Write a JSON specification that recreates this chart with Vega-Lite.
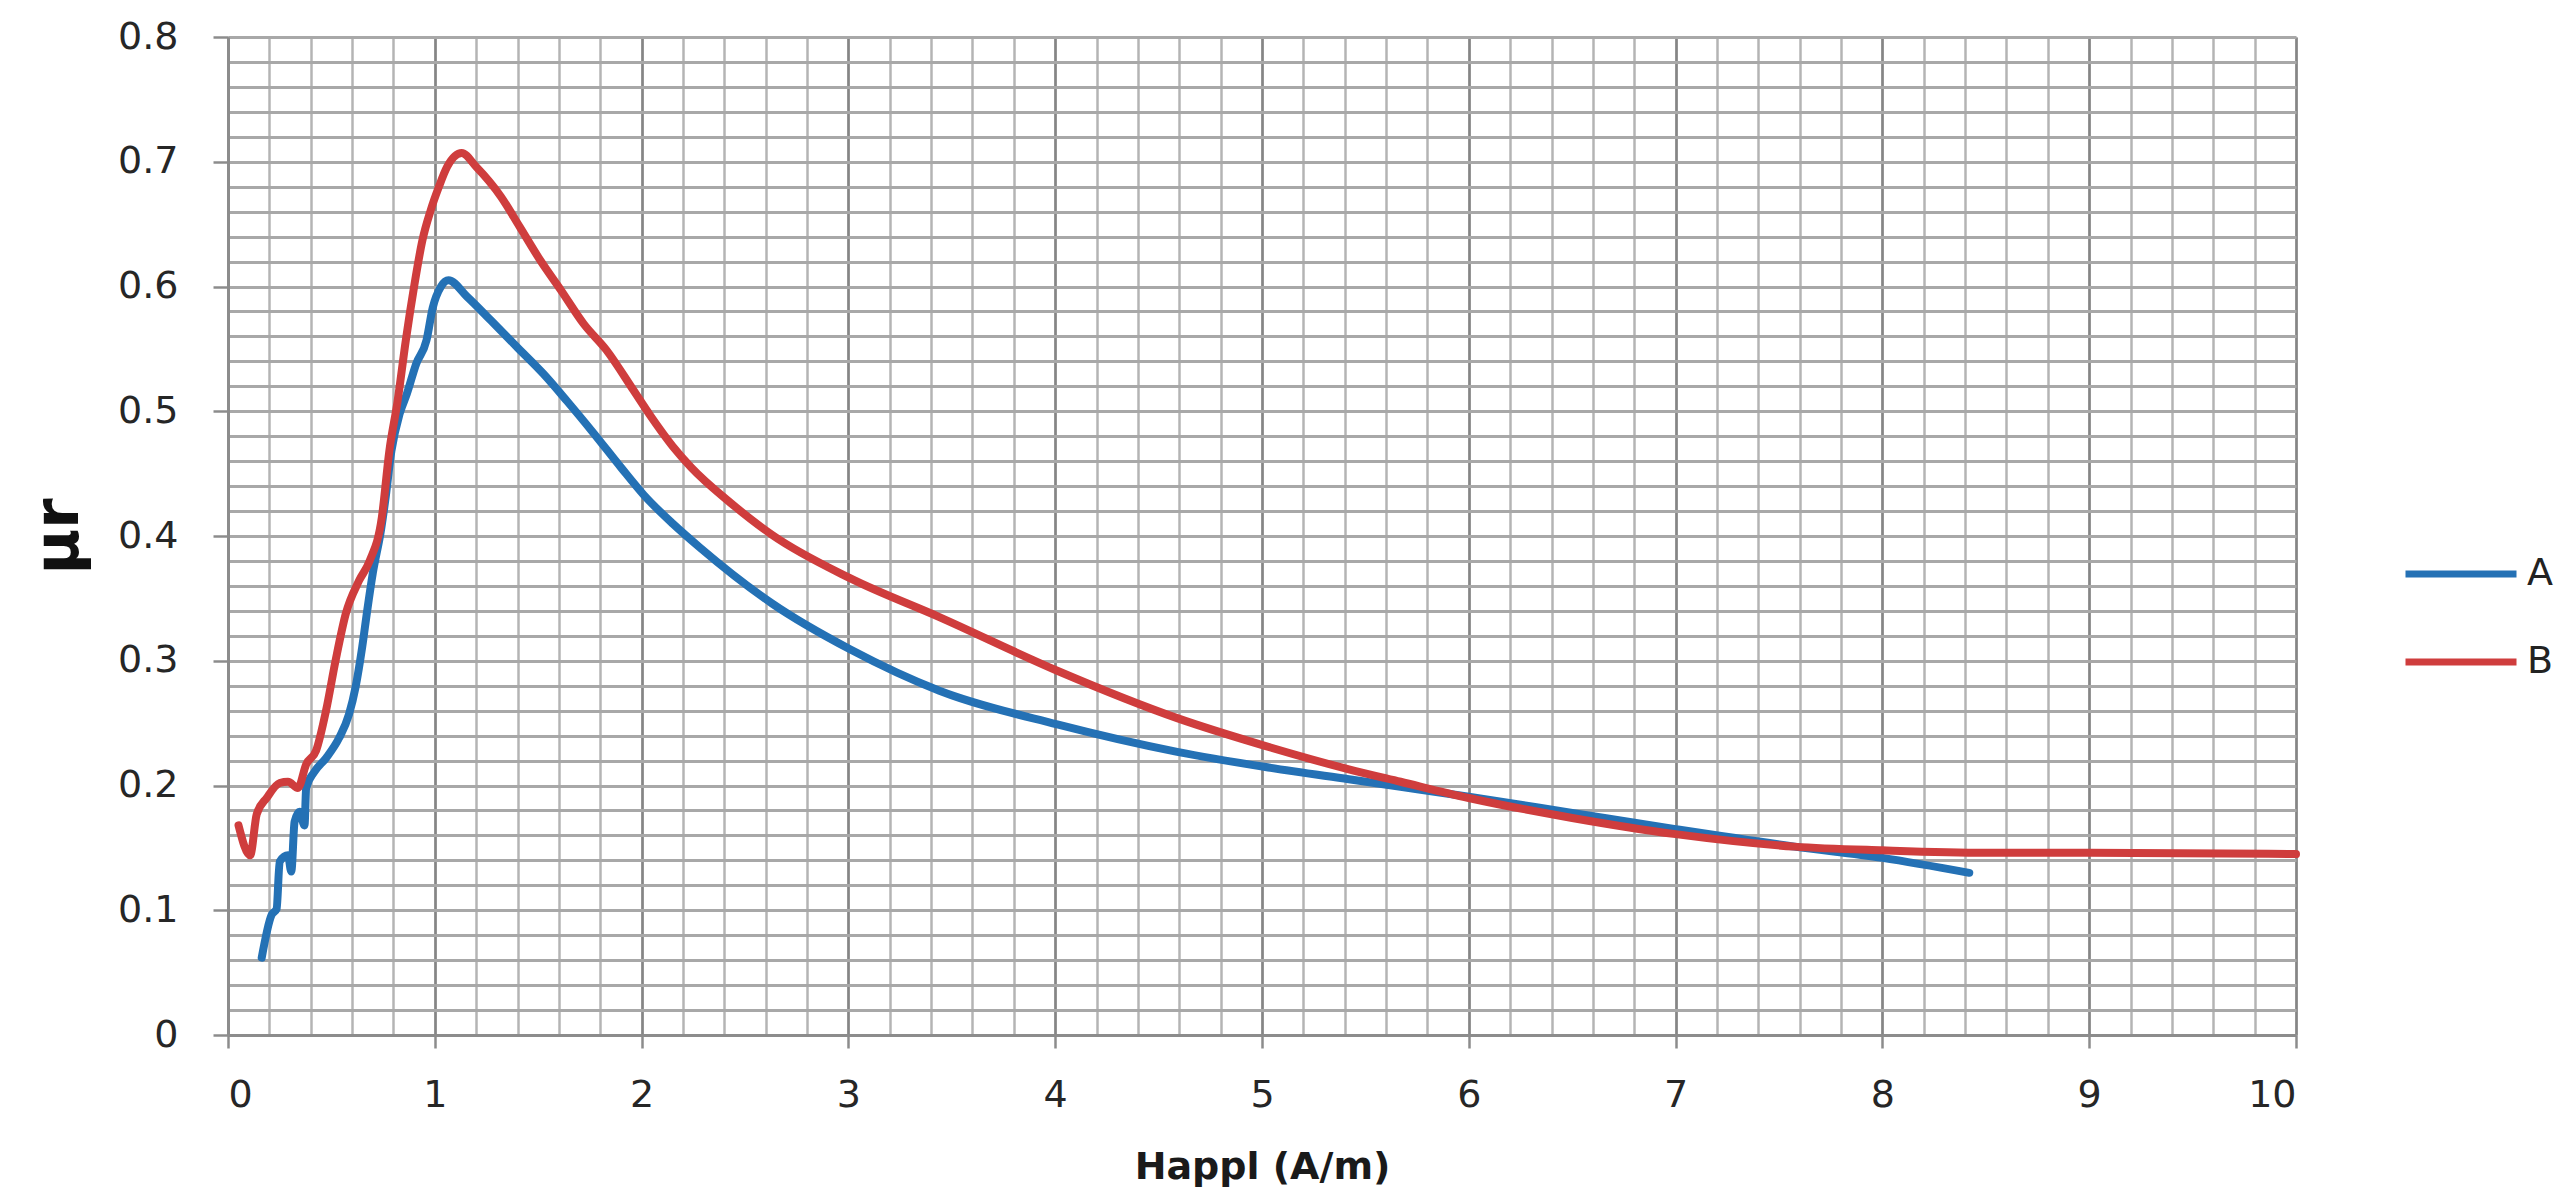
{
  "$schema": "https://vega.github.io/schema/vega-lite/v6.json",
  "width": 2068,
  "height": 998,
  "autosize": "none",
  "padding": {"left": 228, "top": 37, "right": 262, "bottom": 167},
  "background": "white",
  "config": {"view": {"stroke": null}, "font": "DejaVu Sans"},
  "data": {
    "values": [
      {"s": "A", "h": 0.163, "mu": 0.062},
      {"s": "A", "h": 0.21, "mu": 0.096},
      {"s": "A", "h": 0.235, "mu": 0.101},
      {"s": "A", "h": 0.25, "mu": 0.139},
      {"s": "A", "h": 0.29, "mu": 0.144},
      {"s": "A", "h": 0.306, "mu": 0.131},
      {"s": "A", "h": 0.322, "mu": 0.171},
      {"s": "A", "h": 0.346, "mu": 0.179},
      {"s": "A", "h": 0.37, "mu": 0.168},
      {"s": "A", "h": 0.378, "mu": 0.198},
      {"s": "A", "h": 0.418, "mu": 0.211},
      {"s": "A", "h": 0.474, "mu": 0.222},
      {"s": "A", "h": 0.537, "mu": 0.238},
      {"s": "A", "h": 0.585, "mu": 0.257},
      {"s": "A", "h": 0.617, "mu": 0.279},
      {"s": "A", "h": 0.649, "mu": 0.311},
      {"s": "A", "h": 0.673, "mu": 0.34},
      {"s": "A", "h": 0.7, "mu": 0.37},
      {"s": "A", "h": 0.74, "mu": 0.405},
      {"s": "A", "h": 0.76, "mu": 0.428},
      {"s": "A", "h": 0.79, "mu": 0.468},
      {"s": "A", "h": 0.83, "mu": 0.498},
      {"s": "A", "h": 0.865, "mu": 0.514},
      {"s": "A", "h": 0.91, "mu": 0.538},
      {"s": "A", "h": 0.96, "mu": 0.557},
      {"s": "A", "h": 0.99, "mu": 0.583},
      {"s": "A", "h": 1.03, "mu": 0.6},
      {"s": "A", "h": 1.066, "mu": 0.605},
      {"s": "A", "h": 1.155, "mu": 0.592},
      {"s": "A", "h": 1.27, "mu": 0.573},
      {"s": "A", "h": 1.4, "mu": 0.551},
      {"s": "A", "h": 1.525, "mu": 0.53},
      {"s": "A", "h": 1.64, "mu": 0.508},
      {"s": "A", "h": 1.77, "mu": 0.482},
      {"s": "A", "h": 1.9, "mu": 0.455},
      {"s": "A", "h": 2.01, "mu": 0.433},
      {"s": "A", "h": 2.15, "mu": 0.41},
      {"s": "A", "h": 2.28, "mu": 0.391},
      {"s": "A", "h": 2.63, "mu": 0.346},
      {"s": "A", "h": 3.01, "mu": 0.309},
      {"s": "A", "h": 3.44, "mu": 0.276},
      {"s": "A", "h": 4.01, "mu": 0.249},
      {"s": "A", "h": 4.59, "mu": 0.227},
      {"s": "A", "h": 5.01, "mu": 0.215},
      {"s": "A", "h": 5.42, "mu": 0.205},
      {"s": "A", "h": 5.67, "mu": 0.199},
      {"s": "A", "h": 6.0, "mu": 0.191},
      {"s": "A", "h": 6.5, "mu": 0.178},
      {"s": "A", "h": 7.0, "mu": 0.165},
      {"s": "A", "h": 7.575, "mu": 0.151},
      {"s": "A", "h": 8.0, "mu": 0.142},
      {"s": "A", "h": 8.42, "mu": 0.13},
      {"s": "B", "h": 0.051, "mu": 0.168},
      {"s": "B", "h": 0.107, "mu": 0.144},
      {"s": "B", "h": 0.139, "mu": 0.177},
      {"s": "B", "h": 0.187, "mu": 0.19},
      {"s": "B", "h": 0.25, "mu": 0.202},
      {"s": "B", "h": 0.29, "mu": 0.203},
      {"s": "B", "h": 0.338, "mu": 0.198},
      {"s": "B", "h": 0.378, "mu": 0.217},
      {"s": "B", "h": 0.426, "mu": 0.228},
      {"s": "B", "h": 0.474, "mu": 0.26},
      {"s": "B", "h": 0.52, "mu": 0.3},
      {"s": "B", "h": 0.57, "mu": 0.338},
      {"s": "B", "h": 0.633, "mu": 0.364},
      {"s": "B", "h": 0.685, "mu": 0.38},
      {"s": "B", "h": 0.744, "mu": 0.415},
      {"s": "B", "h": 0.78, "mu": 0.468},
      {"s": "B", "h": 0.82, "mu": 0.508},
      {"s": "B", "h": 0.86, "mu": 0.557},
      {"s": "B", "h": 0.9, "mu": 0.6},
      {"s": "B", "h": 0.94, "mu": 0.637},
      {"s": "B", "h": 0.98, "mu": 0.661},
      {"s": "B", "h": 1.02, "mu": 0.68},
      {"s": "B", "h": 1.06, "mu": 0.696},
      {"s": "B", "h": 1.13, "mu": 0.707},
      {"s": "B", "h": 1.2, "mu": 0.696},
      {"s": "B", "h": 1.32, "mu": 0.672},
      {"s": "B", "h": 1.41, "mu": 0.648},
      {"s": "B", "h": 1.51, "mu": 0.621},
      {"s": "B", "h": 1.61, "mu": 0.597},
      {"s": "B", "h": 1.72, "mu": 0.57},
      {"s": "B", "h": 1.83, "mu": 0.549},
      {"s": "B", "h": 1.96, "mu": 0.517},
      {"s": "B", "h": 2.04, "mu": 0.497},
      {"s": "B", "h": 2.15, "mu": 0.472},
      {"s": "B", "h": 2.24, "mu": 0.455},
      {"s": "B", "h": 2.42, "mu": 0.428},
      {"s": "B", "h": 2.63, "mu": 0.401},
      {"s": "B", "h": 3.01, "mu": 0.366},
      {"s": "B", "h": 3.44, "mu": 0.335},
      {"s": "B", "h": 4.01, "mu": 0.292},
      {"s": "B", "h": 4.59, "mu": 0.254},
      {"s": "B", "h": 5.01, "mu": 0.232},
      {"s": "B", "h": 5.42, "mu": 0.213},
      {"s": "B", "h": 5.67, "mu": 0.203},
      {"s": "B", "h": 6.0, "mu": 0.19},
      {"s": "B", "h": 6.5, "mu": 0.174},
      {"s": "B", "h": 7.0, "mu": 0.161},
      {"s": "B", "h": 7.575, "mu": 0.151},
      {"s": "B", "h": 8.0, "mu": 0.148},
      {"s": "B", "h": 8.5, "mu": 0.146},
      {"s": "B", "h": 9.0, "mu": 0.146},
      {"s": "B", "h": 10.0, "mu": 0.145}
    ]
  },
  "layer": [
    {
      "mark": {"type": "line", "opacity": 0},
      "encoding": {
        "x": {
          "field": "h",
          "type": "quantitative",
          "scale": {"domain": [0, 10], "nice": false, "zero": false},
          "axis": {
            "orient": "bottom",
            "values": [0,0.2,0.4,0.6,0.8,1,1.2,1.4,1.6,1.8,2,2.2,2.4,2.6,2.8,3,3.2,3.4,3.6,3.8,4,4.2,4.4,4.6,4.8,5,5.2,5.4,5.6,5.8,6,6.2,6.4,6.6,6.8,7,7.2,7.4,7.6,7.8,8,8.2,8.4,8.6,8.8,9,9.2,9.4,9.6,9.8,10],
            "grid": true,
            "gridColor": "#b4b4b4",
            "gridWidth": 2.5,
            "gridOpacity": 1,
            "labels": false,
            "ticks": false,
            "domain": false,
            "title": null
          }
        },
        "y": {
          "field": "mu",
          "type": "quantitative",
          "scale": {"domain": [0, 0.8], "nice": false},
          "axis": {
            "orient": "left",
            "values": [0,0.02,0.04,0.06,0.08,0.1,0.12,0.14,0.16,0.18,0.2,0.22,0.24,0.26,0.28,0.3,0.32,0.34,0.36,0.38,0.4,0.42,0.44,0.46,0.48,0.5,0.52,0.54,0.56,0.58,0.6,0.62,0.64,0.66,0.68,0.7,0.72,0.74,0.76,0.78,0.8],
            "grid": true,
            "gridColor": "#a8a8a8",
            "gridWidth": 3,
            "gridOpacity": 1,
            "labels": false,
            "ticks": false,
            "domain": false,
            "title": null
          }
        },
        "detail": {"field": "s"}
      }
    },
    {
      "mark": {"type": "line", "strokeWidth": 8, "interpolate": "monotone", "strokeCap": "round", "strokeJoin": "round"},
      "encoding": {
        "x": {
          "field": "h",
          "type": "quantitative",
          "scale": {"domain": [0, 10], "nice": false, "zero": false},
          "axis": {
            "orient": "bottom",
            "values": [0,1,2,3,4,5,6,7,8,9,10],
            "format": "d",
            "grid": true,
            "gridColor": "#858585",
            "gridWidth": 2.5,
            "gridOpacity": 1,
            "domainColor": "#8c8c8c",
            "domainWidth": 3,
            "tickColor": "#8c8c8c",
            "tickWidth": 2.5,
            "tickSize": 13,
            "labelFont": "DejaVu Sans",
            "labelFontSize": 38,
            "labelColor": "#262626",
            "labelPadding": 28,
            "title": "Happl (A/m)",
            "titleFont": "DejaVu Sans",
            "titleFontSize": 38,
            "titleFontWeight": "bold",
            "titleColor": "#1a1a1a",
            "titleX": 1034,
            "titleY": 132,
            "titleBaseline": "middle",
            "titleAlign": "center"
          }
        },
        "y": {
          "field": "mu",
          "type": "quantitative",
          "scale": {"domain": [0, 0.8], "nice": false},
          "axis": {
            "orient": "left",
            "values": [0,0.1,0.2,0.3,0.4,0.5,0.6,0.7,0.8],
            "format": "~g",
            "grid": false,
            "domainColor": "#8c8c8c",
            "domainWidth": 3,
            "tickColor": "#8c8c8c",
            "tickWidth": 2.5,
            "tickSize": 15,
            "labelFont": "DejaVu Sans",
            "labelFontSize": 38,
            "labelColor": "#262626",
            "labelPadding": 35,
            "title": "µr",
            "titleFont": "DejaVu Sans",
            "titleFontSize": 62,
            "titleFontWeight": "bold",
            "titleColor": "#111111",
            "titleX": -170,
            "titleY": 499,
            "titleBaseline": "middle",
            "titleAlign": "center",
            "titleAngle": -90
          }
        },
        "color": {
          "field": "s",
          "type": "nominal",
          "scale": {"domain": ["A", "B"], "range": ["#2471b5", "#cf3d3d"]},
          "legend": {
            "orient": "none",
            "legendX": 2174,
            "legendY": 517,
            "title": null,
            "padding": 0,
            "symbolType": "stroke",
            "symbolSize": 12321,
            "symbolStrokeWidth": 7,
            "clipHeight": 40,
            "rowPadding": 48,
            "labelFont": "DejaVu Sans",
            "labelFontSize": 38,
            "labelColor": "#222222",
            "labelOffset": 7
          }
        }
      }
    }
  ],
  "resolve": {"axis": {"x": "independent", "y": "independent"}}
}
